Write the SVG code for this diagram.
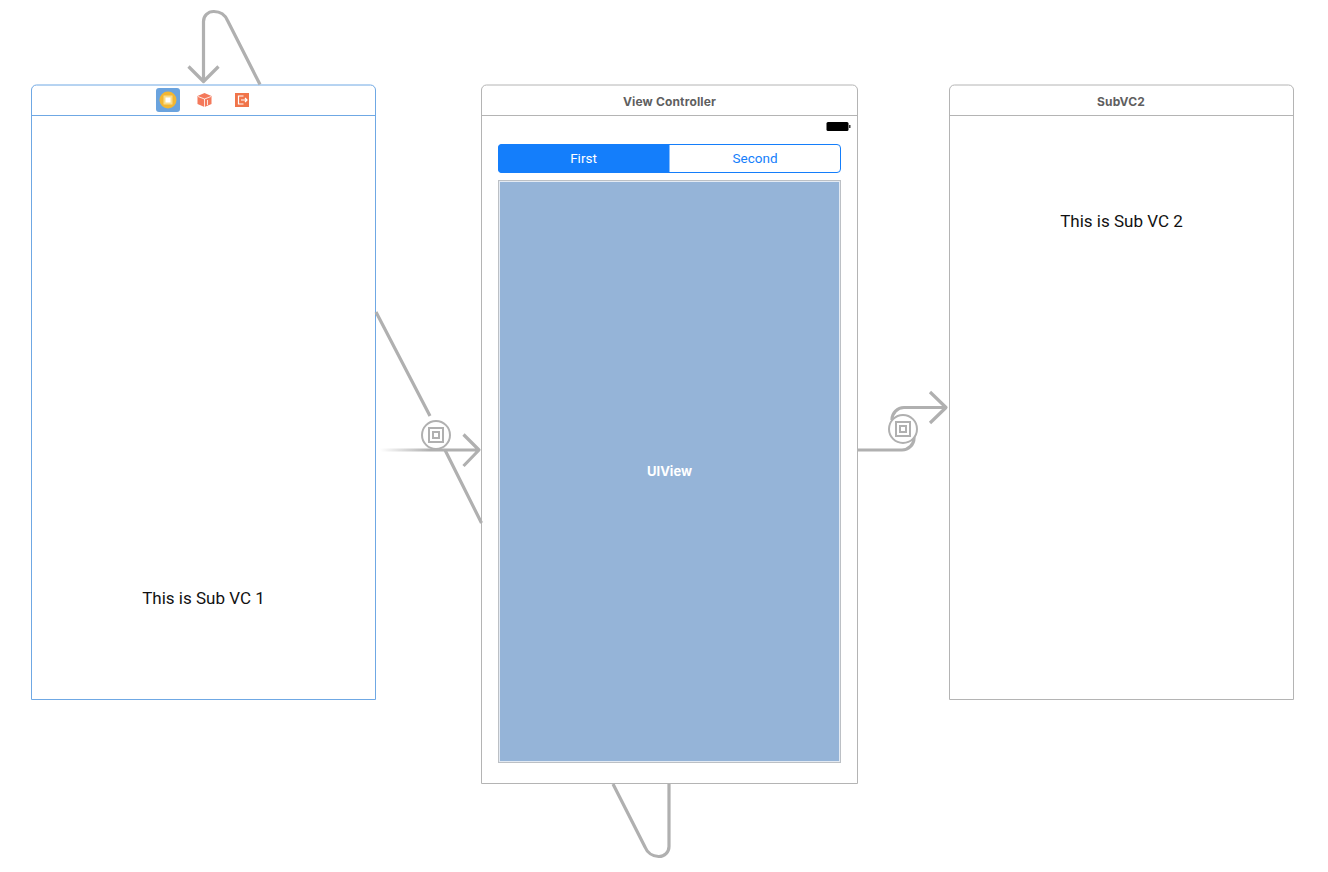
<svg xmlns="http://www.w3.org/2000/svg" width="1328" height="872" viewBox="0 0 1328 872">
<defs>
<linearGradient id="fade" gradientUnits="userSpaceOnUse" x1="380" y1="0" x2="430" y2="0"><stop offset="0" stop-color="#b0b0b0" stop-opacity="0"/><stop offset="1" stop-color="#b0b0b0"/></linearGradient>
</defs>
<style>
.c{fill:none;stroke:#b0b0b0;stroke-width:3.2;stroke-linejoin:round}
.scene{fill:#fff;stroke:#b4b4b4;stroke-width:1}
.title{font:bold 12px "Inter","Liberation Sans",sans-serif;fill:#5f5f5f;text-anchor:middle;letter-spacing:.15px}
.lab{font:17px "Roboto","Liberation Sans",sans-serif;fill:#111;text-anchor:middle}
.seg{font:13.500px "Roboto","Liberation Sans",sans-serif;text-anchor:middle}
.badge{fill:#fff;stroke:#b0b0b0;stroke-width:2}
.sq{fill:none;stroke:#b0b0b0;stroke-width:2}
</style>
<g id="scene-subvc1">
<path d="M31.500 699.500V90a5 5 0 0 1 5-5H370.500a5 5 0 0 1 5 5V699.500Z" fill="#fff" stroke="#6fa8e4"/>
<path d="M31.500 115.500H375.500" fill="none" stroke="#6fa8e4"/>
<rect x="156" y="88" width="24" height="24" rx="3" fill="#6aa3de"/>
<circle cx="168" cy="100" r="8.500" fill="#f2b632"/>
<rect x="163.500" y="95.500" width="9" height="9" fill="#f9dc8a"/>
<rect x="165.500" y="97.500" width="5" height="5" fill="#fff"/>
<path d="M197.500 96l7-3 7 3v8l-7 3-7-3z" fill="#f4795b"/>
<path d="M204.500 99v8M198 96.500l6.500 2.500 6.500-2.500M207.500 100v5" stroke="#fff" stroke-width=".8" fill="none"/>
<rect x="235" y="93" width="14" height="14" fill="#f0744a"/>
<path d="M243.500 96h-5v8h5M241 100h6M245 98l2 2-2 2" stroke="#fff" stroke-width="1.200" fill="none"/>
<text class="lab" x="203.500" y="604">This is Sub VC 1</text>
</g>
<g id="scene-viewcontroller">
<path class="scene" d="M481.500 783.500V90a5 5 0 0 1 5-5H852.500a5 5 0 0 1 5 5V783.500Z"/>
<path d="M481.500 115.500H857.500" stroke="#b4b4b4" fill="none"/>
<text class="title" x="669.500" y="106">View Controller</text>
<rect x="826.500" y="122" width="22" height="9" rx="1.500" fill="#000"/>
<rect x="849" y="125" width="1.500" height="3" fill="#333"/>
<rect x="498.500" y="144.500" width="342" height="28" rx="3.500" fill="#fff" stroke="#147efb"/>
<path d="M669.500 144H502a4 4 0 0 0-4 4V169a4 4 0 0 0 4 4H669.500Z" fill="#147efb"/>
<text class="seg" x="583.500" y="163" fill="#fff">First</text>
<text class="seg" x="755" y="163" fill="#147efb">Second</text>
<rect x="498.500" y="180.500" width="342" height="582" fill="#e3eaf3" stroke="#bcc0c5"/>
<rect x="500" y="182" width="339" height="579" fill="#95b4d8"/>
<text x="669.500" y="476" font-family="Inter,'Liberation Sans',sans-serif" font-size="13" font-weight="bold" fill="#fff" text-anchor="middle">UIView</text>
</g>
<g id="scene-subvc2">
<path class="scene" d="M949.500 699.500V90a5 5 0 0 1 5-5H1288.500a5 5 0 0 1 5 5V699.500Z"/>
<path d="M949.500 115.500H1293.500" stroke="#b4b4b4" fill="none"/>
<text class="title" x="1121" y="106">SubVC2</text>
<text class="lab" x="1121.500" y="227">This is Sub VC 2</text>
</g>
<g id="connectors">
<path class="c" d="M260 84.500L227.500 20.500A15 15 0 0 0 214 11.500H213.500A10 10 0 0 0 203.500 21.500V81"/>
<path class="c" d="M188.500 66.500L203.500 81.500L218.500 66.500"/>
<path class="c" d="M376 312L430 416M445 450L481.500 523"/>
<path d="M380 450H430" fill="none" stroke="url(#fade)" stroke-width="3.200"/>
<path class="c" d="M430 450H478M463.500 434.500L479 450L463.500 466"/>
<circle class="badge" cx="436" cy="435" r="14"/>
<rect class="sq" x="429" y="428" width="14" height="14"/>
<rect class="sq" x="433" y="432" width="6" height="6"/>
<path class="c" d="M858 450H902A12 12 0 0 0 914 438V430M892 420V419.500A12 12 0 0 1 904 407.500H945"/>
<path class="c" d="M930 392L946 407.500L930 423"/>
<circle class="badge" cx="903" cy="429" r="14"/>
<rect class="sq" x="896" y="422" width="14" height="14"/>
<rect class="sq" x="900" y="426" width="6" height="6"/>
<path class="c" d="M613 784L645 847A15 15 0 0 0 658.500 856.500H659A10 10 0 0 0 669 846.500V784"/>
</g>
</svg>
